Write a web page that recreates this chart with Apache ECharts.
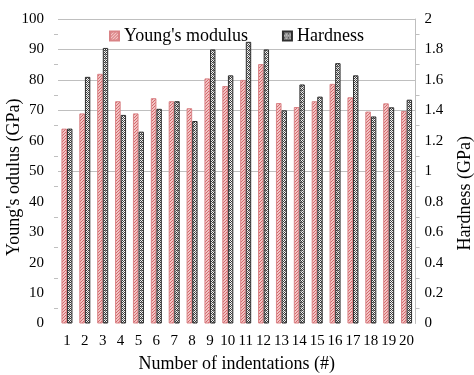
<!DOCTYPE html>
<html>
<head>
<meta charset="utf-8">
<script src="https://cdn.jsdelivr.net/npm/echarts@6/dist/echarts.min.js"></script>
<style>html,body{margin:0;padding:0;background:#fff}#c{width:474px;height:375px}</style>
</head>
<body>
<div id="c"></div>
<script>
const categories = ['1','2','3','4','5','6','7','8','9','10','11','12','13','14','15','16','17','18','19','20'];
const youngsModulus = [64, 69, 82, 73, 69, 74, 73, 70.7, 80.5, 78, 80, 85.2, 72.4, 71.1, 73, 78.7, 74.3, 69.6, 72.3, 69.8];
const hardness = [1.28, 1.62, 1.81, 1.37, 1.26, 1.41, 1.46, 1.33, 1.80, 1.63, 1.85, 1.80, 1.40, 1.57, 1.49, 1.71, 1.63, 1.36, 1.42, 1.47];
const leftTicks = [0, 100, 10];
const rightTicks = [0, 2, 0.2];

function pinkPattern() {
  const c = document.createElement('canvas');
  c.width = 3; c.height = 3;
  const g = c.getContext('2d');
  g.fillStyle = '#f3c4c4'; g.fillRect(0, 0, 3, 3);
  g.fillStyle = '#d2686c';
  for (let i = 0; i < 3; i++) g.fillRect(i, 2 - i, 1, 1);
  return { image: c, repeat: 'repeat' };
}
function greyPattern() {
  const c = document.createElement('canvas');
  c.width = 4; c.height = 4;
  const g = c.getContext('2d');
  g.fillStyle = '#f4f4f4'; g.fillRect(0, 0, 4, 4);
  g.fillStyle = '#3c3c3c';
  g.fillRect(0, 0, 1, 1); g.fillRect(2, 0, 1, 1);
  g.fillRect(1, 1, 1, 1); g.fillRect(3, 1, 1, 1);
  g.fillRect(0, 2, 1, 1); g.fillRect(2, 2, 1, 1);
  g.fillStyle = '#777777';
  g.fillRect(1, 3, 1, 1); g.fillRect(3, 3, 1, 1);
  g.fillRect(1, 2, 1, 1);
  return { image: c, repeat: 'repeat' };
}

const font = "'Liberation Serif', 'Times New Roman', serif";
const chart = echarts.init(document.getElementById('c'), null, { renderer: 'canvas' });
const gridColors = ['transparent','transparent','transparent','transparent','transparent','#bfbfbf','transparent','#bfbfbf','#bfbfbf','#bfbfbf','#bfbfbf'];

chart.setOption({
  animation: false,
  backgroundColor: '#ffffff',
  grid: { left: 58, right: 58.5, top: 19, bottom: 51.5, containLabel: false, outerBoundsMode: 'none' },
  legend: {
    left: 104, top: 22,
    icon: 'rect',
    itemWidth: 9, itemHeight: 9, itemGap: 34,
    textStyle: { fontFamily: font, fontSize: 18, color: '#000' },
    data: ["Young's modulus", 'Hardness']
  },
  xAxis: {
    type: 'category',
    data: categories,
    axisLine: { show: false },
    axisTick: { show: false },
    axisLabel: { interval: 0, fontFamily: font, fontSize: 15, color: '#000', margin: 10 },
    name: 'Number of indentations (#)',
    nameLocation: 'middle',
    nameGap: 32,
    nameMoveOverlap: false,
    nameTextStyle: { fontFamily: font, fontSize: 18, color: '#000' }
  },
  yAxis: [
    {
      type: 'value', min: leftTicks[0], max: leftTicks[1], interval: leftTicks[2],
      axisLine: { show: false },
      axisTick: { show: false },
      minorTick: { show: true, splitNumber: 2, length: 4, lineStyle: { color: '#bfbfbf' } },
      axisLabel: { fontFamily: font, fontSize: 15, color: '#000', margin: 14 },
      splitLine: { show: true, lineStyle: { color: gridColors, width: 1 } },
      name: "Young's odulus (GPa)",
      nameLocation: 'middle', nameGap: 35,
      nameMoveOverlap: false,
      nameTextStyle: { fontFamily: font, fontSize: 18, color: '#000', padding: [0, 12, 0, 0] }
    },
    {
      type: 'value', min: rightTicks[0], max: rightTicks[1], interval: rightTicks[2],
      position: 'right',
      axisLine: { show: true, lineStyle: { color: '#bfbfbf' } },
      axisTick: { show: false },
      minorTick: { show: true, splitNumber: 2, length: 4, lineStyle: { color: '#bfbfbf' } },
      axisLabel: { fontFamily: font, fontSize: 15, color: '#000', margin: 9 },
      splitLine: { show: false },
      name: 'Hardness (GPa)',
      nameLocation: 'middle', nameGap: 41, nameRotate: 90,
      nameMoveOverlap: false,
      nameTextStyle: { fontFamily: font, fontSize: 18, color: '#000', padding: [0, 44, 0, 0] }
    }
  ],
  series: [
    {
      name: "Young's modulus", type: 'bar', yAxisIndex: 0,
      data: youngsModulus,
      barWidth: 5.6, barGap: '0%',
      itemStyle: { color: pinkPattern(), borderColor: '#d98386', borderWidth: 1 }
    },
    {
      name: 'Hardness', type: 'bar', yAxisIndex: 1,
      data: hardness,
      barWidth: 5.4,
      itemStyle: { color: greyPattern(), borderColor: '#2e2e2e', borderWidth: 1 }
    }
  ]
});
</script>
</body>
</html>
